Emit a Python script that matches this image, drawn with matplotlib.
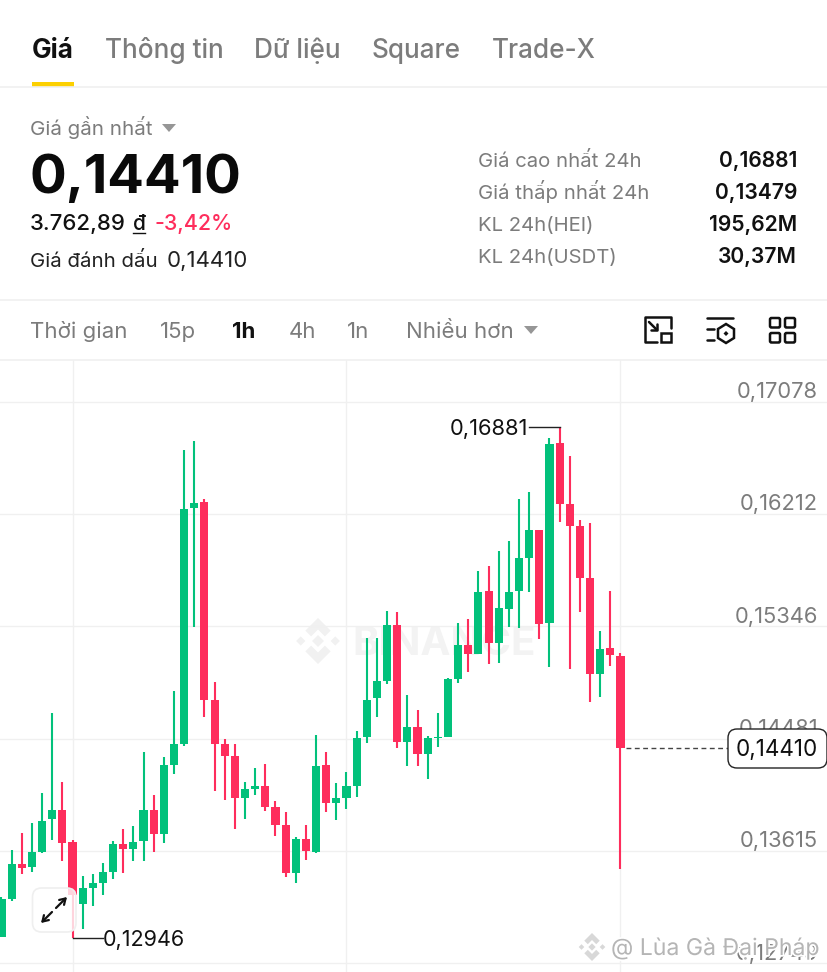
import matplotlib
matplotlib.use('Agg')
from matplotlib import pyplot as plt
from matplotlib.patches import FancyBboxPatch, Polygon, Rectangle
import matplotlib.patheffects as pe

plt.rcParams['font.family'] = ['Inter', 'Noto Sans', 'DejaVu Sans']

opens = [0.12954, 0.13242, 0.13517, 0.13489, 0.13605, 0.13859, 0.13933, 0.13684, 0.13209, 0.13330,
         0.13366, 0.13455, 0.13666, 0.13628, 0.13689, 0.13930, 0.13743, 0.14280, 0.14439, 0.16257,
         0.16301, 0.14778, 0.14437, 0.14347, 0.14023, 0.14090, 0.14118, 0.13951, 0.13813, 0.13448,
         0.13705, 0.13607, 0.14280, 0.13984, 0.14025, 0.14118, 0.14493, 0.14791, 0.14924, 0.15358,
         0.14457, 0.14570, 0.14362, 0.14483, 0.14495, 0.14938, 0.15202, 0.15135, 0.15616, 0.15215,
         0.15482, 0.15618, 0.15874, 0.16086, 0.15371, 0.16761, 0.16288, 0.16119, 0.15716, 0.14978,
         0.15176, 0.15117]
closes = [0.13242, 0.13517, 0.13486, 0.13607, 0.13848, 0.13933, 0.13678, 0.13276, 0.13330, 0.13366,
          0.13455, 0.13666, 0.13630, 0.13686, 0.13930, 0.13743, 0.14277, 0.14439, 0.16252, 0.16296,
          0.14780, 0.14439, 0.14344, 0.14023, 0.14090, 0.14118, 0.13954, 0.13813, 0.13445, 0.13705,
          0.13612, 0.14270, 0.13984, 0.14025, 0.14115, 0.14488, 0.14776, 0.14924, 0.15358, 0.14457,
          0.14570, 0.14362, 0.14483, 0.14495, 0.14938, 0.15202, 0.15132, 0.15613, 0.15215, 0.15485,
          0.15613, 0.15872, 0.16086, 0.15366, 0.16753, 0.16288, 0.16119, 0.15718, 0.14978, 0.15171,
          0.15122, 0.14410]
highs = [0.13262, 0.13622, 0.13756, 0.13828, 0.14064, 0.14680, 0.14144, 0.13699, 0.13424, 0.13437,
         0.13520, 0.13694, 0.13786, 0.13807, 0.14375, 0.14044, 0.14336, 0.14847, 0.16704, 0.16774,
         0.16324, 0.14917, 0.14480, 0.14437, 0.14149, 0.14256, 0.14285, 0.14002, 0.13915, 0.13720,
         0.13815, 0.14508, 0.14375, 0.14139, 0.14223, 0.14542, 0.15253, 0.15253, 0.15466, 0.15454,
         0.14819, 0.14699, 0.14501, 0.14680, 0.14945, 0.15374, 0.15400, 0.15772, 0.15811, 0.15924,
         0.16001, 0.16324, 0.16381, 0.16086, 0.16797, 0.16881, 0.16658, 0.16165, 0.16140, 0.15312,
         0.15618, 0.15138]
lows = [0.12950, 0.13232, 0.13437, 0.13455, 0.13601, 0.13699, 0.13535, 0.12946, 0.13011, 0.13193,
        0.13276, 0.13397, 0.13443, 0.13535, 0.13540, 0.13607, 0.13678, 0.14208, 0.14426, 0.15338,
        0.14645, 0.14079, 0.14008, 0.13786, 0.13859, 0.14046, 0.13925, 0.13730, 0.13417, 0.13366,
        0.13545, 0.13601, 0.13915, 0.13853, 0.13936, 0.14028, 0.14449, 0.14649, 0.14901, 0.14411,
        0.14272, 0.14267, 0.14172, 0.14418, 0.14495, 0.14911, 0.14996, 0.15132, 0.15055, 0.15061,
        0.15343, 0.15330, 0.15610, 0.15246, 0.15030, 0.16152, 0.15015, 0.15456, 0.14763, 0.14801,
        0.15040, 0.13479]

price_ticks = [0.17078, 0.16212, 0.15346, 0.14481, 0.13615, 0.12749]
time_ticks = [7, 34, 61]
last_price = 0.14410
high_mark = (55, 0.16881)
low_mark = (7, 0.12946)

tabs = ['Giá', 'Thông tin', 'Dữ liệu', 'Square', 'Trade-X']
tab_x = [32, 105, 254, 372, 492]
stat_names = ['Giá cao nhất 24h', 'Giá thấp nhất 24h', 'KL 24h(HEI)', 'KL 24h(USDT)']
stat_values = ['0,16881', '0,13479', '195,62M', '30,37M']
stat_y = [167, 199, 231, 263]
periods = ['Thời gian', '15p', '1h', '4h', '1n', 'Nhiều hơn']
period_x = [30, 160, 232, 289, 347, 406]

GREEN = '#02c17b'
RED = '#fe2d5c'
GREY = '#7c7c7c'
LINE = '#f0f0f0'


def comma(v):
    return f'{v:.5f}'.replace('.', ',')


def logo(ax, cx, cy, r, color, z=1):
    pieces = [
        [(0, -1), (.55, -.45), (.3, -.2), (0, -.5), (-.3, -.2), (-.55, -.45)],
        [(0, 1), (.55, .45), (.3, .2), (0, .5), (-.3, .2), (-.55, .45)],
        [(0, -.26), (.26, 0), (0, .26), (-.26, 0)],
        [(-.75, -.2), (-.55, 0), (-.75, .2), (-.95, 0)],
        [(.75, -.2), (.95, 0), (.75, .2), (.55, 0)],
    ]
    for p in pieces:
        ax.add_patch(Polygon([(cx + a * r, cy + b * r) for a, b in p], fc=color, ec='none', zorder=z))


def pixel_layer(z):
    a = fig.add_axes([0, 0, 1, 1], facecolor='none', zorder=z)
    a.set_xlim(0, 828)
    a.set_ylim(972, 0)
    a.axis('off')
    return a


fig = plt.figure(figsize=(8.28, 9.72), dpi=100, facecolor='white')

# BINANCE mark sits behind the candles
back = pixel_layer(0)
logo(back, 318, 641, 23, '#f1f1f1')
back.text(352, 655, 'BINANCE', fontsize=29, fontweight='bold', color='#f3f3f3')

# chart part, below the header (y 360 to 972 in pixels)
ax = fig.add_axes([0, 0, 1, 612 / 972], facecolor='none', zorder=1)
ax.set_xlim(-0.145, 81.45)
ax.set_ylim(0.12682, 0.17398)
for s in ax.spines.values():
    s.set_visible(False)
ax.set_xticks(time_ticks)
ax.set_yticks(price_ticks)
ax.tick_params(length=0, labelleft=False, labelbottom=False)
ax.grid(True, color=LINE, lw=1)
ax.set_axisbelow(True)

for i in range(len(opens)):
    col = GREEN if closes[i] >= opens[i] else RED
    ax.vlines(i, lows[i], highs[i], color=col, lw=1.5, zorder=3)
    ax.bar(i, abs(closes[i] - opens[i]), bottom=min(opens[i], closes[i]), width=0.8, color=col, zorder=3)

tr = ax.get_yaxis_transform()
for p in price_ticks:
    ax.annotate(comma(p), (1, p), xycoords=tr, xytext=(-7.2, 2.5), textcoords='offset points',
                ha='right', va='baseline', fontsize=15.8, color=GREY, zorder=2)

ax.plot([high_mark[0] - 3, high_mark[0]], [high_mark[1]] * 2, color='#222222', lw=1, zorder=4)
ax.annotate(comma(high_mark[1]), high_mark, xytext=(-23, -5.8), textcoords='offset points',
            ha='right', va='baseline', fontsize=15.8, color='#111111')
ax.plot([low_mark[0], low_mark[0] + 3], [low_mark[1]] * 2, color='#222222', lw=1, zorder=4)
ax.annotate(comma(low_mark[1]), low_mark, xytext=(21.6, -5.8), textcoords='offset points',
            ha='left', va='baseline', fontsize=15.5, color='#111111')
ax.plot([61.5, 71.6], [last_price] * 2, color='#444444', lw=1, ls=(0, (3.5, 2.5)), zorder=4)

# everything else is drawn in pixels on a see-through layer
ui = pixel_layer(2)

for y in [87, 300, 360]:
    ui.plot([0, 828], [y, y], color=LINE, lw=1.2)

for i, t in enumerate(tabs):
    ui.text(tab_x[i], 58, t, fontsize=18.8, fontweight='bold' if i == 0 else 'medium',
            color='#111111' if i == 0 else GREY)
ui.add_patch(Rectangle((32, 82), 42, 5, fc='#fcd000', ec='none'))

ui.text(30, 135, 'Giá gần nhất', fontsize=14.8, color=GREY)
ui.add_patch(Polygon([(162, 124), (176, 124), (169, 132)], fc='#969696', ec='none'))
ui.text(30, 193, comma(last_price), fontsize=39.2, fontweight='bold', color='#0a0a0a')
ui.text(30, 230, '3.762,89', fontsize=16, fontweight='medium', color='#111111')
ui.text(133, 230, 'đ', fontsize=15, fontweight='medium', color='#111111')
ui.plot([133, 145], [233, 233], color='#111111', lw=1)
ui.text(155, 230, '-3,42%', fontsize=15.4, fontweight='medium', color=RED)
ui.text(30, 267, 'Giá đánh dấu', fontsize=14.7, color='#222222')
ui.text(167, 267, comma(last_price), fontsize=16, color='#222222')

for i in range(4):
    ui.text(478, stat_y[i], stat_names[i], fontsize=14.6, color=GREY)
    ui.text(797, stat_y[i], stat_values[i], fontsize=15.2, ha='right', fontweight='semibold', color='#111111')

for i, t in enumerate(periods):
    ui.text(period_x[i], 337.5, t, fontsize=16, fontweight='bold' if t == '1h' else 'normal',
            color='#111111' if t == '1h' else GREY)
ui.add_patch(Polygon([(524, 326), (538, 326), (531, 334)], fc='#969696', ec='none'))

# toolbar icons
k = dict(color='#111111', lw=1.8, solid_capstyle='round')
ui.plot([671, 671, 645, 645, 657], [328, 317, 317, 342, 342], **k)
ui.plot([649, 657], [322, 330], **k)
ui.plot([651, 657, 657], [330, 330, 324], **k)
ui.add_patch(Rectangle((661, 333), 10, 9, fc='none', ec='#111111', lw=1.8))
ui.plot([707, 733], [318, 318], **k)
ui.plot([707, 714], [329, 329], **k)
ui.plot([707, 714], [340, 340], **k)
ui.add_patch(Polygon([(726, 324), (734, 329), (734, 338), (726, 343), (718, 338), (718, 329)],
                     fc='none', ec='#111111', lw=1.8))
ui.add_patch(Polygon([(726, 331), (728.5, 333.5), (726, 336), (723.5, 333.5)], fc='#111111', ec='none'))
for gx in (770, 785):
    for gy in (318, 333):
        ui.add_patch(FancyBboxPatch((gx, gy), 10, 9.5, boxstyle='round,pad=0,rounding_size=1.5',
                                    fc='none', ec='#111111', lw=1.8))

# bottom right watermark
white = [pe.withStroke(linewidth=2.5, foreground='white')]
logo(ui, 592, 947, 14, '#d8d8d8', z=6)
ui.text(611, 955, '@ Lùa Gà Đại Pháp', fontsize=16.6, color='#b5b5b5', path_effects=white, zorder=6)

# current price label
ui.add_patch(FancyBboxPatch((728, 729), 99, 39, boxstyle='round,pad=0,rounding_size=9',
                            fc='white', ec='#222222', lw=1, zorder=5))
ui.text(777, 756, comma(last_price), fontsize=16.2, ha='center', color='#111111', zorder=6)

# expand button
ui.add_patch(FancyBboxPatch((32.5, 888), 43.5, 44, boxstyle='round,pad=0,rounding_size=9',
                            fc=(1, 1, 1, 0.8), ec='#efefef', lw=1.2, zorder=5))
for a, b in [((56, 908), (67, 897)), ((52, 912), (41, 923))]:
    ui.annotate('', xy=b, xytext=a, zorder=6,
                arrowprops=dict(arrowstyle='->,head_length=0.4,head_width=0.25', color='#111111', lw=1.6,
                                shrinkA=0, shrinkB=0))

fig.savefig('out.png', dpi=100)
